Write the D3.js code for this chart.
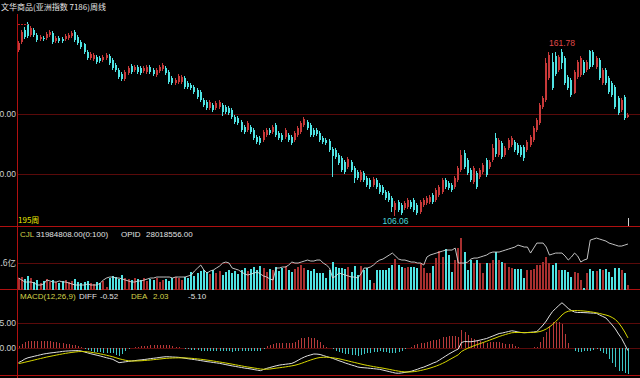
<!DOCTYPE html>
<html><head><meta charset="utf-8">
<script src="https://cdn.jsdelivr.net/npm/d3@7"></script>
<style>html,body{margin:0;padding:0;background:#000;overflow:hidden}svg{display:block}</style>
</head><body>
<svg id="c" width="640" height="378"></svg>
<script>
// ---- data (weekly bars) ----
const open = [
161.3,164,168,170,166.3,168,166.3,165,165.5,165.3,
166.3,167,164.3,165.3,165,165,165.3,166,167.3,165.7,
164,163.3,160.7,158.7,158.3,159,158.7,158,158.7,159.3,
158,156.3,154.7,153.3,151.7,153.7,156,154.7,155.7,155.3,
154.3,154,155.7,154.7,153,154.3,155,155.3,154,152,
150.3,150.7,150.7,152,150.3,149.7,149,148,147.3,144.7,
144,142,143,142,142.3,143,142.3,142,141.3,139,
138.7,137.3,135.7,134.7,135.7,134.7,132.3,132,131.3,133,
134.7,134,136.3,133.7,133,132.3,133,132.3,131.3,133,
134,136.3,137.3,136.3,134.7,134.7,133.7,132,131.3,131,
128.3,128,126.3,125.3,124,122.3,124,122,120.7,118,
120.3,118.7,118,116.3,118,116.3,115.7,114,113.7,112,
108,110.7,109.7,108.7,109,110.7,111.3,109.7,107.3,109.7,
110.3,110.7,113,111.3,113,114,118,117,116.3,115.7,
118,121.3,127,124.7,121.3,117.3,120.3,119,120.7,124.7,
122.3,124.7,132,126.3,130.3,126.3,128.7,129.7,130.7,129.7,
129,129,128,129.7,131.3,134.7,137,142.3,144.7,152,
157.3,159.3,154.7,160.7,158.7,152.3,151.3,147,152.3,153,
157.3,154.7,161,160.7,155.7,158,150.3,154.7,152,150.3,
149,145.3,141.3,145.7,139];
const close = [
163.7,167.3,165.7,166,168.7,166.3,164.7,165.7,165,166.7,
167.3,164,165.3,164.3,164.3,166,166.3,167,164.7,163.7,
162.3,160.7,158.7,160,159.7,157.3,157.7,159,159.7,157,
155.3,154.7,152.3,151.7,154,155.3,154,155.7,154,153.7,
155.3,155.7,154,153.3,154.7,155.7,156.3,153.7,150.7,150.3,
151.3,152.7,152.3,149,149,148.7,147.3,145.7,144.7,143,
142,144,141.3,143.7,144,140.7,140.7,140.3,139,137.3,
137,134.7,134,137,134,132,130.7,130.3,134,134.7,
133.7,135.7,133,132,131.3,134.7,131.3,130.3,133.7,135.3,
137,138.3,135.3,133,133,133.3,131.3,130.7,130.3,128,
126,125.7,123.7,121.3,120.7,125,121.3,118.7,118.7,120.7,
118,116.3,115.7,118.3,115.7,114,113.7,112,111.3,109,
110.3,108,107,110.3,111.3,109,108,107,110.7,111.3,
112,112.3,110.7,114.7,115.7,118,115.7,115.3,114.7,118.7,
122,126.3,122.3,120.3,118,122,115.7,121.3,123,119.7,
124,128.7,126.7,131.3,125.7,128.7,131.3,132,128,127,
126.3,125.3,130.7,132.3,135.3,138,143,145.3,157,159.7,
148.7,153.3,159,157,150.3,148.7,146.3,154,157.3,158.7,
153.7,157.3,155.7,156.3,158.7,152,154.7,150.3,147.3,146.3,
142.3,140.3,144.7,138.7,139.7];
const high = [
164.3,168,169,170.7,169.3,168.7,167,166.3,166,167.3,
168,167.7,166,166,165.7,166.7,167,167.7,168,166.3,
164.7,163.7,161.3,160.7,160.3,159.7,159.3,159.7,160.3,160,
158.7,157,155.3,154,154.7,156,156.7,156.3,156.3,156,
156,156.3,156.3,155.3,155.3,156.3,157,156,154.7,152.7,
152,153.3,153,152.7,151,150.3,149.7,148.7,148,145.3,
144.7,144.7,143.7,144.3,144.7,143.7,143,142.7,142,139.7,
139.3,138,136.3,137.7,136.3,135.3,133,132.7,134.7,135.3,
135.3,136.3,137,134.3,133.7,135.3,133.7,133,134.3,136,
137.7,139,138,137,135.3,135.3,134.3,132.7,132,131.7,
129,128.7,127,126,124.7,125.7,124.7,122.7,121.3,121.3,
121,119.3,118.7,119,118.7,117,116.3,114.7,114.3,112.7,
111,111.3,110.3,111,112,111.3,112,110.3,111.3,112,
112.7,113,113.7,115.3,116.3,118.7,118.7,117.7,117,119.3,
122.7,128,128,125.3,122,122.7,121,122,123.7,125.3,
124.7,130,133.7,132,131,129.3,132,132.7,131.3,130.3,
129.7,129.7,131.3,133,136,138.7,143.7,146,158.7,160.7,
160.3,160.7,159.7,161.78,159.3,153,152,154.7,158,159.3,
158,158,161.5,161.3,159.3,158.7,155.3,155.3,152.7,151,
149.7,146,145.3,146.3,140.3];
const low = [
160.7,163.3,165,165.3,165.7,165.7,164,164.3,164.3,164.7,
165.7,163.3,163.7,163.7,163.7,164.3,164.7,165.3,164,163,
161.7,160,158,158,157.7,156.7,157,157.3,158,156.3,
154.7,154,151.7,151,151,153,153.3,154,153.3,153,
153.7,153.3,153.3,152.7,152.3,153.7,154.3,153,150,149.7,
149.7,150,150,148.3,148.3,148,146.7,145,144,142.3,
141.3,141.3,140.7,141.3,141.7,139.3,140,139.7,138.3,136.7,
136.3,134,133.3,134,133.3,131.3,130,129.7,130.7,132.3,
133,133.3,132.3,131.3,130.7,131.7,130.7,129.7,130.7,132.3,
133.3,135.7,134.7,132.3,132.3,132.7,130.7,130,129.7,127.3,
119,125,123,120.7,120,121.7,120.7,117,118,117.3,
117.3,115.7,115,115.7,115,113.3,113,111.3,110.7,107.3,
106.06,107.3,106.5,108,108.3,108.3,107.3,106.5,106.7,109,
109.7,110,110,110.7,112.3,113.3,115,114.7,114,115,
117.3,120.7,121.7,119.7,117.3,116.7,115,118.3,120,119,
121.7,124,125.7,125.7,125,125.7,128,129,127.3,126.3,
125.7,124.3,127.3,129,130.7,134,136.3,141.7,144,151.3,
148,152.7,154,155,149.7,148,145.7,146.7,151.7,152.3,
153,154,155,155.7,155,151.3,149.7,149.7,146.7,145.7,
141.7,139.7,140.7,138,138.7];
// volume (亿)
const volume = [
0.72,0.78,0.66,0.84,0.72,0.48,0.6,0.42,0.54,0.66,
0.48,0.6,0.48,0.42,0.54,0.6,0.48,0.54,0.66,0.48,
0.42,0.48,0.54,0.42,0.36,0.48,0.42,0.54,0.18,0.72,
0.84,0.78,0.66,0.9,0.72,0.66,0.6,0.72,0.66,0.6,
0.72,0.54,0.66,0.6,0.72,0.48,0.6,0.66,0.54,0.72,
0.78,0.72,0.6,0.78,0.72,1.08,0.84,1.02,1.14,1.2,
1.08,0.96,1.2,1.02,1.14,0.9,1.08,1.2,1.02,1.14,
0.96,1.2,1.32,1.14,1.26,1.38,1.2,1.44,1.32,1.08,
1.26,1.2,1.38,1.14,1.32,1.44,1.2,1.08,1.26,1.38,
1.5,1.32,1.2,1.14,1.26,1.02,1.02,1.02,0.72,1.2,
1.68,1.38,1.32,1.32,1.26,1.38,1.08,1.44,0.9,1.44,
1.2,1.32,0.6,0.42,1.2,1.2,1.2,1.2,1.32,1.5,
1.86,1.5,1.38,1.32,1.38,1.38,1.38,1.32,1.62,1.32,
1.02,1.02,1.44,1.92,2.34,1.98,2.46,2.1,1.08,1.8,
2.52,3.12,2.28,1.2,1.8,1.62,1.8,1.62,1.02,1.62,
1.62,1.8,2.28,1.8,1.68,1.62,1.38,1.32,1.26,1.26,
1.26,0.72,1.2,1.2,1.26,1.5,1.5,1.68,1.98,1.62,
1.5,1.62,1.2,1.2,1.2,1.08,0.78,1.08,1.02,0.6,
0.12,1.02,1.26,1.14,1.14,1.26,1.2,1.26,1.08,0.78,
1.32,1.32,1.2,1.02,0.31984808];
// open interest (万)
const openInterest = [
1780,1720,1660,1660,1660,1630,1570,1570,1600,1720,
1690,1660,1660,1690,1660,1660,1630,1600,1570,1570,
1570,1570,1600,1570,1570,1570,1630,1720,1780,1810,
1810,1780,1780,1750,1720,1690,1660,1660,1690,1690,
1720,1750,1780,1780,1810,1810,1810,1810,1810,1780,
1810,1810,1810,1810,1840,1870,1990,2080,2170,2020,
1930,1990,2020,2080,2140,2230,2260,2230,2080,2050,
2020,1960,1900,1870,1900,1930,1960,1900,1840,1810,
1750,1720,2080,2080,2110,2110,2170,2260,2230,2230,
2260,2290,2320,2290,2290,2320,2320,2230,2170,2080,
1780,1840,1930,1900,1870,1840,1810,1810,1780,1900,
2080,2080,2110,2170,2260,2320,2350,2410,2470,2530,
2440,2350,2320,2320,2290,2260,2260,2230,2230,2170,
2410,2470,2500,2530,2560,2590,2620,2620,2620,2680,
2230,2230,2230,2260,2350,2380,2380,2410,2440,2470,
2530,2560,2560,2560,2590,2620,2650,2680,2710,2770,
2740,2710,2710,2530,2680,2830,2830,2830,2710,2470,
2500,2530,2530,2530,2440,2320,2410,2530,2440,2260,
2320,2350,2920,2950,2980,2950,2920,2890,2830,2800,
2770,2740,2740,2770,2801.8556];
const diff = [
-2.9,-2.6,-2.2,-1.95,-1.8,-1.65,-1.5,-1.35,-1.2,-1.1,
-1.0,-0.93,-0.85,-0.77,-0.68,-0.62,-0.58,-0.55,-0.53,-0.52,
-0.6,-0.8,-0.98,-1.15,-1.3,-1.45,-1.6,-1.77,-1.95,-2.1,
-2.27,-2.6,-2.93,-2.85,-2.76,-2.68,-2.6,-2.52,-2.44,-2.38,
-2.3,-2.22,-2.12,-2.05,-1.97,-1.88,-1.8,-1.74,-1.76,-1.8,
-1.83,-1.87,-1.95,-2.05,-2.15,-2.23,-2.32,-2.42,-2.52,-2.62,
-2.73,-2.8,-2.9,-2.98,-3.07,-3.2,-3.33,-3.45,-3.58,-3.68,
-3.8,-3.9,-4.02,-4.1,-4.2,-4.32,-4.43,-4.53,-4.3,-4.07,
-3.9,-3.73,-3.56,-3.42,-3.33,-3.25,-3.17,-3.08,-2.8,-2.45,
-2.1,-1.8,-1.55,-1.38,-1.2,-1.22,-1.3,-1.5,-1.7,-1.88,
-2.07,-2.3,-2.55,-2.75,-3.0,-3.2,-3.4,-3.58,-3.8,-3.9,
-3.95,-4.0,-4.07,-4.13,-4.2,-4.27,-4.42,-4.57,-4.72,-4.87,
-5.02,-5.05,-4.98,-4.88,-4.77,-4.65,-4.45,-4.25,-4.0,-3.82,
-3.55,-3.3,-3.0,-2.78,-2.4,-2.0,-1.6,-1.2,-0.85,-0.5,
-0.2,1.1,1.3,1.27,1.25,1.35,1.45,1.6,1.75,1.9,
2.15,2.4,2.65,2.9,3.0,3.15,3.3,3.45,3.35,3.2,
3.1,3.05,3.1,3.15,3.2,3.3,3.9,4.6,5.4,6.4,
7.3,7.9,8.5,9.05,8.5,7.9,7.5,7.2,7.1,7.1,
7.08,7.05,7.0,6.97,6.93,6.6,6.3,6.0,5.3,4.6,
3.8,2.8,1.9,0.7,-0.52];
const dea = [
-3.1,-3.0,-2.85,-2.7,-2.55,-2.4,-2.25,-2.1,-1.95,-1.8,
-1.68,-1.55,-1.42,-1.3,-1.18,-1.07,-0.97,-0.88,-0.8,-0.73,
-0.7,-0.72,-0.77,-0.85,-0.95,-1.05,-1.18,-1.3,-1.45,-1.6,
-1.75,-1.95,-2.15,-2.3,-2.45,-2.55,-2.6,-2.6,-2.58,-2.55,
-2.5,-2.45,-2.4,-2.33,-2.27,-2.2,-2.13,-2.07,-2.03,-2.0,
-1.98,-1.97,-1.97,-1.98,-2.02,-2.06,-2.12,-2.18,-2.25,-2.33,
-2.42,-2.5,-2.6,-2.7,-2.8,-2.9,-3.0,-3.12,-3.23,-3.35,
-3.47,-3.58,-3.7,-3.8,-3.9,-4.0,-4.1,-4.2,-4.25,-4.25,
-4.2,-4.12,-4.03,-3.95,-3.87,-3.78,-3.68,-3.57,-3.45,-3.28,
-3.08,-2.85,-2.62,-2.4,-2.2,-2.02,-1.9,-1.85,-1.85,-1.88,
-1.95,-2.05,-2.15,-2.3,-2.45,-2.6,-2.75,-2.9,-3.05,-3.2,
-3.35,-3.48,-3.6,-3.72,-3.83,-3.93,-4.03,-4.15,-4.27,-4.4,
-4.52,-4.63,-4.72,-4.78,-4.8,-4.78,-4.72,-4.63,-4.5,-4.35,
-4.2,-4.02,-3.82,-3.6,-3.35,-3.07,-2.75,-2.4,-2.05,-1.7,
-1.35,-0.7,-0.35,-0.05,0.2,0.45,0.68,0.9,1.12,1.35,
1.58,1.82,2.05,2.3,2.5,2.7,2.88,3.05,3.1,3.12,
3.1,3.08,3.08,3.1,3.12,3.18,3.3,3.5,3.8,4.2,
4.7,5.3,5.9,6.6,7.1,7.35,7.45,7.5,7.48,7.45,
7.4,7.33,7.25,7.15,7.05,6.9,6.75,6.6,6.4,6.1,
5.7,5.05,4.2,3.2,2.03];
const priceTicks = [140, 120];
const volumeTicks = [1.6];
const macdTicks = [5, 0];
const titleText = "文华商品(亚洲指数 7186)周线";
const barCountText = "195周";

// ---- drawing ----
const N = open.length;
const svg = d3.select("#c");
svg.append("rect").attr("width",640).attr("height",378).attr("fill","#000");

const UP = "#c83a3a", DOWN = "#4fe3e3", VUP = "#a83030";
const SEP = "#b01010", GRID = "#5a0a0a";
const FONT = "'Liberation Sans', Arial, sans-serif";

const x = d3.scaleBand().domain(d3.range(N)).range([17, 629.5]);
const cx = i => x(i) + x.bandwidth() / 2;
const yP = d3.scaleLinear().domain([120, 140]).range([174, 114]);
const yV = d3.scaleLinear().domain([0, 1.6]).range([290, 263.3]);
const yOI = d3.scaleLinear().domain([1420, 2801.8556]).range([290, 244]);
const yM = d3.scaleLinear().domain([0, 5]).range([348, 323]);

const g = svg.append("g").attr("shape-rendering", "crispEdges");

// gridlines
priceTicks.forEach(t => g.append("line").attr("x1",17).attr("x2",640)
  .attr("y1",Math.round(yP(t))+0.5).attr("y2",Math.round(yP(t))+0.5).attr("stroke",GRID));
volumeTicks.forEach(t => g.append("line").attr("x1",17).attr("x2",640)
  .attr("y1",Math.round(yV(t))+0.5).attr("y2",Math.round(yV(t))+0.5).attr("stroke",GRID));
macdTicks.forEach(t => g.append("line").attr("x1",17).attr("x2",640)
  .attr("y1",Math.round(yM(t))+0.5).attr("y2",Math.round(yM(t))+0.5).attr("stroke",GRID));

// panel separators + left axis
[226.5, 289.5, 375.5].forEach(yy => g.append("line").attr("x1",0).attr("x2",640)
  .attr("y1",yy).attr("y2",yy).attr("stroke",SEP));
g.append("line").attr("x1",17.5).attr("x2",17.5).attr("y1",14).attr("y2",378).attr("stroke",SEP);

// candles
const px = i => Math.round(cx(i) - 1);
const candles = g.append("g");
d3.range(N).forEach(i => {
  const up = close[i] >= open[i];
  const col = up ? UP : DOWN;
  candles.append("rect").attr("x", px(i)).attr("width", 1)
    .attr("y", yP(high[i])).attr("height", Math.max(1, yP(low[i]) - yP(high[i]))).attr("fill", col);
  const top = yP(Math.max(open[i], close[i])), bot = yP(Math.min(open[i], close[i]));
  candles.append("rect").attr("x", px(i)).attr("width", 2)
    .attr("y", top).attr("height", Math.max(1, bot - top)).attr("fill", col);
});

// volume bars
d3.range(N).forEach(i => {
  const up = close[i] >= open[i];
  g.append("rect").attr("x", px(i)).attr("width", 2)
    .attr("y", yV(volume[i])).attr("height", 290 - yV(volume[i]))
    .attr("fill", up ? VUP : DOWN);
});

// MACD histogram
d3.range(N).forEach(i => {
  const h = 2 * (diff[i] - dea[i]);
  const xx = Math.round(cx(i)) + 0.5;
  g.append("line").attr("x1", xx).attr("x2", xx)
    .attr("y1", yM(0)).attr("y2", yM(h))
    .attr("stroke", h >= 0 ? "#b83a3a" : "#3cc6c6");
});

// lines
const lg = svg.append("g").attr("fill","none");
lg.append("path").datum(d3.range(N))
  .attr("d", d3.line().x(i => cx(i)).y(i => yOI(openInterest[i])))
  .attr("stroke", "#d8d8d8").attr("stroke-width", 0.9);
lg.append("path").datum(d3.range(N))
  .attr("d", d3.line().x(i => cx(i)).y(i => yM(diff[i])))
  .attr("stroke", "#e0e0e0").attr("stroke-width", 1);
lg.append("path").datum(d3.range(N))
  .attr("d", d3.line().x(i => cx(i)).y(i => yM(dea[i])))
  .attr("stroke", "#d8d800").attr("stroke-width", 1);

// marks for extremes
const iTop = d3.maxIndex(high);
svg.append("line").attr("x1", 18).attr("x2", cx(iTop))
  .attr("y1", Math.round(yP(open[iTop])) + 0.5).attr("y2", Math.round(yP(open[iTop])) + 0.5)
  .attr("stroke", "#c02020").attr("stroke-dasharray", "2,1");
const iMin = d3.minIndex(low);
const iPeak = iMin + d3.maxIndex(high.slice(iMin));

const txt = (s, xx, yy, col, anchor, size) => svg.append("text")
  .attr("x", xx).attr("y", yy).attr("fill", col)
  .attr("text-anchor", anchor || "start")
  .attr("font-family", FONT).attr("font-size", size || 8).text(s);

txt(low[iMin].toFixed(2), cx(iMin), 224, "#4fd8d8", "middle", 8.5);
txt(high[iPeak].toFixed(2), cx(iPeak), yP(high[iPeak]) - 3, "#e04848", "middle", 8.5);

// last bar cursor tick
svg.append("line").attr("x1", Math.round(cx(N-1)) + 0.5).attr("x2", Math.round(cx(N-1)) + 0.5)
  .attr("y1", 218).attr("y2", 226).attr("stroke", "#d0d0d0");

// axis labels (clipped at the left edge, as in the original)
priceTicks.forEach(t => txt(t.toFixed(2), 16, yP(t) + 3, "#d0d0d0", "end", 8.5));
volumeTicks.forEach(t => txt(t + "亿", 16, yV(t) + 3, "#d0d0d0", "end", 8.5)
  .attr("font-family", "'Noto Sans CJK SC', sans-serif"));
macdTicks.forEach(t => txt(t.toFixed(2), 16, yM(t) + 3, "#d0d0d0", "end", 8.5));

// titles
svg.append("text").attr("x", 1).attr("y", 10).attr("fill", "#e6e6e6")
  .attr("font-family", "'Noto Sans CJK SC', sans-serif").attr("font-size", 8).text(titleText);
svg.append("text").attr("x", 18).attr("y", 223).attr("fill", "#e6e600")
  .attr("font-family", "'Noto Sans CJK SC', sans-serif").attr("font-size", 8).text(barCountText);

txt("CJL", 20, 237, "#d4d44a");
txt((volume[N-1] * 1e8).toFixed(2) + "(0:100)", 36, 237, "#e0e0e0");
txt("OPID", 121, 237, "#e0e0e0");
txt((openInterest[N-1] * 1e4).toFixed(2), 146, 237, "#e0e0e0");

txt("MACD(12,26,9)", 20, 299, "#d4d44a");
txt("DIFF", 79, 299, "#e0e0e0");
txt(diff[N-1].toFixed(2), 100, 299, "#e0e0e0");
txt("DEA", 131, 299, "#d4d44a");
txt(dea[N-1].toFixed(2), 153, 299, "#d4d44a");
txt((2 * (diff[N-1] - dea[N-1])).toFixed(2), 188, 299, "#e0e0e0");
</script>
</body></html>
